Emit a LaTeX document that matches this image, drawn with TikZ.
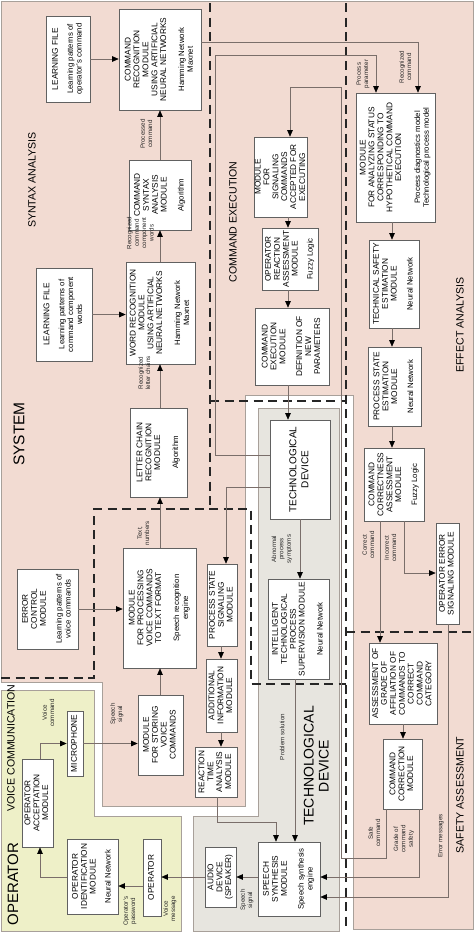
\documentclass[tikz,border=0pt]{standalone}
\usepackage{fontspec}
\setmainfont{Liberation Sans}
\usepackage{graphicx}
\usetikzlibrary{arrows.meta}
\definecolor{pinkbg}{HTML}{F2DBD2}
\definecolor{yelbg}{HTML}{EEF0C8}
\definecolor{greybg}{HTML}{E7E5DF}
\definecolor{edgec}{HTML}{A8A09A}
\definecolor{lc}{HTML}{7A6E6A}
\newcommand{\R}[1]{\rotatebox{90}{\begin{tabular}{@{}c@{}}#1\end{tabular}}}
\newcommand{\sm}{\fontsize{7.8}{8.8}\selectfont}
\tikzset{
  box/.style={draw=black!62, line width=0.65pt, fill=white, inner sep=0pt, font=\fontsize{8.3}{8.9}\selectfont},
  lab/.style={inner sep=0pt, font=\fontsize{6.2}{7.4}\selectfont, text=black!85},
  sec/.style={inner sep=0pt, font=\fontsize{10.6}{12}\selectfont},
  arr/.style={draw=lc, line width=0.6pt, -{Triangle[length=6.5pt,width=5.5pt,color=black]}},
  dsh/.style={draw=black!85, line width=1.5pt, dash pattern=on 9pt off 5.5pt},
  region/.style={draw=edgec, line width=0.4pt}
}
\begin{document}
\begin{tikzpicture}[x=1pt, y=-1pt]
\useasboundingbox (0,0) rectangle (474,932);
% regions
\fill[white] (0,0) rectangle (474,932);
\filldraw[region, fill=pinkbg] (1,1) -- (473,1) -- (473,929) -- (353,929) -- (353,395) -- (245,395) -- (245,806) -- (102,806) -- (102,682) -- (1,682) -- cycle;
\filldraw[region, fill=yelbg] (1,690) -- (94,690) -- (94,816) -- (181,816) -- (181,931) -- (1,931) -- cycle;
\filldraw[region, fill=greybg] (258,408) -- (339,408) -- (339,931) -- (193,931) -- (193,816) -- (258,816) -- cycle;
% dashed borders
\draw[dsh] (210,3) -- (210,509);
\draw[dsh] (210,401) -- (346,401);
\draw[dsh] (346,3) -- (346,930);
\draw[dsh] (1,678) -- (94,678) -- (94,509) -- (251,509) -- (251,684) -- (346,684);
\draw[dsh] (346,632) -- (473,632);
% section labels
\node[sec] (tsyn) at (32,180) {\rotatebox{90}{SYNTAX ANALYSIS}};
\node[sec, font=\fontsize{15.5}{17}\selectfont] (tsys) at (19,434) {\rotatebox{90}{SYSTEM}};
\node[sec] (tcex) at (233,222) {\rotatebox{90}{COMMAND EXECUTION}};
\node[sec] (teff) at (460,325) {\rotatebox{90}{EFFECT ANALYSIS}};
\node[sec] (tsaf) at (460,795) {\rotatebox{90}{SAFETY ASSESSMENT}};
\node[sec] (tvoc) at (11,748) {\rotatebox{90}{VOICE COMMUNICATION}};
\node[sec, font=\fontsize{15}{17}\selectfont] (topr) at (13,884) {\rotatebox{90}{OPERATOR}};
\node[sec, font=\fontsize{14}{15}\selectfont] (ttd) at (318,766) {\R{TECHNOLOGICAL\\DEVICE}};
% boxes
\node[box, minimum width=44pt, minimum height=86pt] (lf1) at (68,59) {\R{LEARNING FILE\\[6pt] \sm Learning patterns of\\ \sm operator's command}};
\node[box, minimum width=82pt, minimum height=101pt] (cr) at (160,59.5) {\R{COMMAND\\RECOGNITION\\MODULE\\USING ARTIFICIAL\\NEURAL NETWORKS\\[9pt] \sm Hamming Network\\ \sm Maxnet}};
\node[box, minimum width=62pt, minimum height=70pt] (csa) at (160,195) {\R{COMMAND\\SYNTAX\\ANALYSIS\\MODULE\\[8pt] \sm Algorithm}};
\node[box, minimum width=56pt, minimum height=93pt] (lf2) at (64,314.5) {\R{LEARNING FILE\\[6pt] \sm Learning patterns of\\ \sm command component\\ \sm words}};
\node[box, minimum width=69pt, minimum height=102pt] (wr) at (160.5,313) {\R{WORD RECOGNITION\\MODULE\\USING ARTIFICIAL\\NEURAL NETWORKS\\[9pt] \sm Hamming Network\\ \sm Maxnet}};
\node[box, minimum width=57pt, minimum height=89pt] (lcr) at (158.5,452.5) {\R{LETTER CHAIN\\RECOGNITION\\MODULE\\[9pt] \sm Algorithm}};
\node[box, minimum width=61pt, minimum height=80pt] (ecm) at (47.5,609) {\R{ERROR\\CONTROL\\MODULE\\[7pt] \sm Learning patterns of\\ \sm voice commands}};
\node[box, minimum width=73pt, minimum height=120pt] (pvc) at (159.5,608) {\R{MODULE\\FOR PROCESSING\\VOICE COMMANDS\\TO TEXT FORMAT\\[9pt] \sm Speech recognition\\ \sm engine}};
\node[box, minimum width=45pt, minimum height=80pt] (svc) at (160.5,735) {\R{MODULE\\FOR STORING\\VOICE\\COMMANDS}};
\node[box, minimum width=30pt, minimum height=82pt] (pss) at (222,605) {\R{PROCESS STATE\\SIGNALING\\MODULE}};
\node[box, minimum width=31pt, minimum height=73pt] (aim) at (221.5,695.5) {\R{ADDITIONAL\\INFORMATION\\MODULE}};
\node[box, minimum width=42pt, minimum height=50pt] (rta) at (216,772) {\R{REACTION\\TIME\\ANALYSIS\\MODULE}};
\node[box, minimum width=60pt, minimum height=99pt, font=\fontsize{10}{12}\selectfont] (td) at (300,469.5) {\R{TECHNOLOGICAL\\DEVICE}};
\node[box, minimum width=61pt, minimum height=100pt] (itp) at (298.5,629) {\R{INTELLIGENT\\TECHNOLOGICAL\\PROCESS\\SUPERVISION MODULE\\[9pt] \sm Neural Network}};
\node[box, minimum width=62pt, minimum height=74pt] (ssm) at (289,879) {\R{SPEECH\\SYNTHESIS\\MODULE\\[8pt] \sm Speech synthesis\\ \sm engine}};
\node[box, minimum width=31pt, minimum height=60pt] (aud) at (220.5,877) {\R{AUDIO\\DEVICE\\(SPEAKER)}};
\node[box, minimum width=48pt, minimum height=80pt] (msc) at (281,177) {\R{MODULE\\FOR\\SIGNALING\\COMMANDS\\ACCEPTED FOR\\EXECUTING}};
\node[box, minimum width=56pt, minimum height=62pt] (ora) at (290,259) {\R{OPERATOR\\REACTION\\ASSESSMENT\\MODULE\\[6pt] \sm Fuzzy Logic}};
\node[box, minimum width=74pt, minimum height=77pt] (cem) at (292,346.5) {\R{COMMAND\\EXECUTION\\MODULE\\[8pt] DEFINITION OF\\NEW\\PARAMETERS}};
\node[box, minimum width=79pt, minimum height=129pt] (mas) at (395.5,157.5) {\R{MODULE\\FOR ANALYZING STATUS\\CORRESPONDING TO\\HYPOTHETICAL COMMAND\\EXECUTION\\[10pt] \sm Process diagnostics model\\ \sm Technological process model}};
\node[box, minimum width=50pt, minimum height=88pt] (tse) at (394,284) {\R{TECHNICAL SAFETY\\ESTIMATION\\MODULE\\[7pt] \sm Neural Network}};
\node[box, minimum width=53pt, minimum height=79pt] (pse) at (394.5,386.5) {\R{PROCESS STATE\\ESTIMATION\\MODULE\\[7pt] \sm Neural Network}};
\node[box, minimum width=60pt, minimum height=73pt] (cca) at (394,484.5) {\R{COMMAND\\CORRECTNESS\\ASSESSMENT\\MODULE\\[7pt] \sm Fuzzy Logic}};
\node[box, minimum width=23pt, minimum height=101pt] (oes) at (447.5,573.5) {\R{OPERATOR ERROR\\SIGNALING MODULE}};
\node[box, minimum width=68pt, minimum height=81pt] (agc) at (403,683.5) {\R{ASSESSMENT OF\\GRADE OF\\AFFILIATION OF\\COMMANDS TO\\CORRECT\\COMMAND\\CATEGORY}};
\node[box, minimum width=39pt, minimum height=70pt] (ccm) at (402.5,774) {\R{COMMAND\\CORRECTION\\MODULE}};
\node[box, minimum width=16pt, minimum height=65pt] (mic) at (75,743.5) {\R{MICROPHONE}};
\node[box, minimum width=31pt, minimum height=88pt] (oam) at (37.5,803) {\R{OPERATOR\\ACCEPTATION\\MODULE}};
\node[box, minimum width=51pt, minimum height=75pt] (oim) at (92.5,876.5) {\R{OPERATOR\\IDENTIFICATION\\MODULE\\[6pt] \sm Neural Network}};
\node[box, minimum width=18pt, minimum height=77pt] (op) at (152,877.5) {\R{OPERATOR}};
% connectors
\draw[arr] (lf1.east) -- (lf1.east -| cr.west);
\draw[arr] (csa.north -| 160,0) -- (cr.south -| 160,0);
\draw[arr] (wr.north -| 160,0) -- (csa.south -| 160,0);
\draw[arr] (lf2.east) -- (lf2.east -| wr.west);
\draw[arr] (lcr.north -| 160,0) -- (wr.south -| 160,0);
\draw[arr] (pvc.north -| 160,0) -- (lcr.south -| 160,0);
\draw[arr] (ecm.east) -- (ecm.east -| pvc.west);
\draw[arr] (svc.north -| 160,0) -- (pvc.south -| 160,0);
\draw[arr] (mic.east) -- (mic.east -| svc.west);
\draw[arr] (oam.north -| 40,0) -- (40,743.5) -- (mic.west);
\draw[arr] (op.west |- 0,886) -- (oim.east |- 0,886);
\draw[arr] (oim.west |- 0,877) -- (40,877) -- (oam.south -| 40,0);
\draw[arr] (aud.west) -- (aud.west -| op.east);
\draw[arr] (ssm.west |- 0,877) -- (aud.east |- 0,877);
\draw[arr] (rta.south -| 217,0) -- (217,822) -- (276,822) -- (ssm.north -| 276,0);
\draw[arr] (itp.south -| 295,0) -- (ssm.north -| 295,0);
\draw[arr] (td.south) -- (itp.north -| td.south);
\draw[arr] (td.west |- 0,487) -- (226,487) -- (pss.north -| 226,0);
\draw[arr] (pss.south -| 221,0) -- (aim.north -| 221,0);
\draw[arr] (aim.south -| 221,0) -- (rta.north -| 221,0);
\draw[arr] (cem.south -| 288,0) -- (td.north -| 288,0);
\draw[arr] (ora.south -| 288,0) -- (cem.north -| 288,0);
\draw[arr] (msc.south -| 288,0) -- (ora.north -| 288,0);
\draw[arr] (cr.east |- 0,42) -- (418,42) -- (mas.north -| 418,0);
\draw[arr] (td.west |- 0,455) -- (215,455) -- (215,55) -- (376,55) -- (mas.north -| 376,0);
\draw[arr] (ccm.south -| 386,0) -- (386,858) -- (341,858) -- (341,87) -- (290,87) -- (msc.north -| 290,0);
\draw[arr] (ccm.south -| 419,0) -- (419,877) -- (ssm.east |- 0,877);
\draw[arr] (oes.south -| 448,0) -- (448,897) -- (ssm.east |- 0,897);
\draw[arr] (mas.south -| 392,0) -- (tse.north -| 392,0);
\draw[arr] (tse.south -| 392,0) -- (pse.north -| 392,0);
\draw[arr] (pse.south -| 392,0) -- (cca.north -| 392,0);
\draw[arr] (cca.south -| 380,0) -- (agc.north -| 380,0);
\draw[arr] (cca.south -| 404,0) -- (404,573) -- (oes.west |- 0,573);
\draw[arr] (agc.south -| 403,0) -- (ccm.north -| 403,0);
% connector labels
\node[lab] (l1) at (147,134) {\R{Processed\\command}};
\node[lab] (l2) at (141,233) {\R{Recognized\\command\\component\\words}};
\node[lab] (l3) at (145,373) {\R{Recognized\\letter chains}};
\node[lab] (l4) at (144,533) {\R{Text,\\numbers}};
\node[lab] (l5) at (117,714) {\R{Speech\\signal}};
\node[lab] (l6) at (49,713) {\R{Voice\\command}};
\node[lab] (l7) at (130,911) {\R{Operator's\\password}};
\node[lab] (l8) at (170,909) {\R{Voice\\message}};
\node[lab] (l9) at (247,900) {\R{Speech\\signal}};
\node[lab] (l10) at (283,737) {\R{Problem solution}};
\node[lab] (l11) at (282,549) {\R{Abnormal\\process\\symptoms}};
\node[lab] (l12) at (406,67) {\R{Recognized\\command}};
\node[lab] (l13) at (363,74) {\R{Process\\parameter}};
\node[lab] (l14) at (375,833) {\R{Safe\\command}};
\node[lab] (l15) at (404,839) {\R{Grade of\\command\\safety}};
\node[lab] (l16) at (441,836) {\R{Error messages}};
\node[lab] (l17) at (369,545) {\R{Correct\\command}};
\node[lab] (l18) at (391,548) {\R{Incorrect\\command}};
\end{tikzpicture}
\end{document}
